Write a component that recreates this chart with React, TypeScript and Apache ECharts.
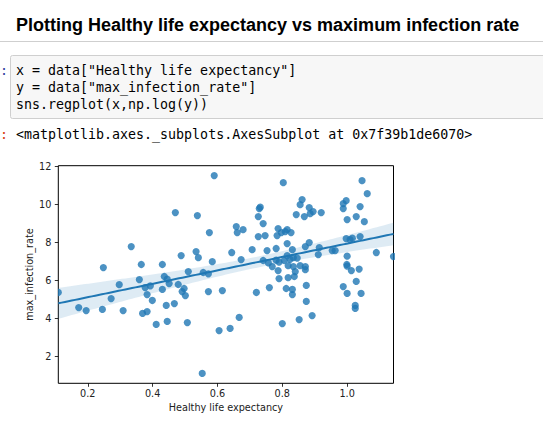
import React, { useEffect, useRef } from "react";
import * as echarts from "echarts";

// Healthy life expectancy (x) for each country
const healthyLifeExpectancy = [
  0.109, 0.172, 0.195, 0.245, 0.248, 0.272, 0.297, 0.309, 0.334, 0.359, 0.365, 0.369, 0.377, 0.383, 0.383,
  0.393, 0.399, 0.411, 0.430, 0.430, 0.436, 0.442, 0.445, 0.445, 0.451, 0.467, 0.470, 0.479, 0.488, 0.491,
  0.497, 0.501, 0.507, 0.510, 0.534, 0.538, 0.541, 0.553, 0.556, 0.572, 0.572, 0.575, 0.584, 0.590, 0.605,
  0.615, 0.639, 0.644, 0.658, 0.661, 0.667, 0.673, 0.679, 0.707, 0.720, 0.726, 0.729, 0.732, 0.726, 0.741,
  0.741, 0.747, 0.753, 0.757, 0.760, 0.769, 0.781, 0.781, 0.784, 0.787, 0.787, 0.790, 0.790, 0.797, 0.800,
  0.803, 0.806, 0.809, 0.812, 0.815, 0.815, 0.815, 0.818, 0.818, 0.824, 0.827, 0.831, 0.831, 0.831, 0.834,
  0.834, 0.837, 0.840, 0.843, 0.846, 0.852, 0.855, 0.855, 0.861, 0.868, 0.871, 0.871, 0.871, 0.874, 0.874,
  0.883, 0.883, 0.886, 0.892, 0.895, 0.911, 0.914, 0.920, 0.954, 0.963, 0.988, 0.988, 0.988, 0.997, 0.997,
  1.000, 1.000, 0.999, 1.000, 1.000, 1.009, 1.013, 1.016, 1.025, 1.025, 1.028, 1.028, 1.037, 1.040, 1.040,
  1.043, 1.046, 1.053, 1.062, 1.090, 1.143,
];

// log(max infection rate) (y) for each country
const maxInfectionRate = [
  5.36, 4.57, 4.41, 4.47, 6.67, 5.04, 5.77, 4.41, 7.77, 6.04, 6.83, 4.26, 5.62, 5.25, 4.36,
  5.71, 4.94, 3.68, 6.83, 5.52, 6.20, 4.68, 6.06, 3.84, 5.83, 4.78, 9.56, 5.78, 7.30, 5.41,
  5.57, 5.20, 3.78, 6.46, 7.51, 9.40, 7.19, 1.11, 6.41, 6.34, 5.41, 8.51, 6.98, 11.50, 3.36,
  5.46, 3.47, 7.46, 8.82, 8.51, 4.05, 7.09, 8.66, 7.61, 5.36, 9.35, 9.77, 9.84, 8.30, 8.98,
  7.04, 8.35, 7.56, 6.91, 5.62, 6.72, 7.67, 7.06, 8.35, 8.72, 6.51, 6.95, 6.09, 8.51, 3.73,
  11.13, 7.04, 8.56, 5.57, 8.66, 7.93, 7.30, 6.77, 6.14, 7.10, 8.51, 7.61, 5.52, 5.25, 6.72,
  7.19, 6.20, 6.46, 9.45, 7.17, 3.94, 9.97, 6.77, 10.24, 9.35, 7.77, 6.72, 6.56, 5.73, 4.89,
  9.82, 7.98, 9.50, 4.15, 9.61, 7.35, 7.72, 9.56, 7.56, 7.56, 10.03, 9.77, 5.67, 10.18, 8.19,
  9.19, 7.27, 6.83, 6.74, 5.31, 8.14, 6.51, 8.21, 4.68, 4.52, 9.35, 5.94, 6.59, 9.87, 8.30,
  5.31, 11.23, 9.08, 10.55, 7.46, 7.25,
];

const xTicks = [0.2, 0.4, 0.6, 0.8, 1.0];
const yTicks = [2, 4, 6, 8, 10, 12];

const xLabel = "Healthy life expectancy";
const yLabel = "max_infection_rate";
const titleText = "Plotting Healthy life expectancy vs maximum infection rate";
const codeLines = [
  '{d|x} {o|=} {d|data[}{s|"Healthy life expectancy"}{d|]}',
  '{d|y} {o|=} {d|data[}{s|"max_infection_rate"}{d|]}',
  "{d|sns.regplot}{b|(}{d|x,np.log(y)}{b|)}",
];
const inPrompt = ":";
const outPrompt = ":";
const outputText = "<matplotlib.axes._subplots.AxesSubplot at 0x7f39b1de6070>";

const BLUE = "#1f77b4";
const MONO = '"DejaVu Sans Mono", monospace';
const SANS_MPL = '"DejaVu Sans", sans-serif';

export default function App() {
  const ref = useRef<HTMLDivElement>(null);

  useEffect(() => {
    if (!ref.current) return;
    const chart = echarts.init(ref.current, undefined, { renderer: "svg" });

    const n = Math.min(healthyLifeExpectancy.length, maxInfectionRate.length);
    const pts: number[][] = [];
    for (let i = 0; i < n; i++) pts.push([healthyLifeExpectancy[i], maxInfectionRate[i]]);
    const xs = pts.map((p) => p[0]);
    const ys = pts.map((p) => p[1]);
    const xMin = Math.min(...xs);
    const xMax = Math.max(...xs);
    const yLo = Math.min(...ys);
    const yHi = Math.max(...ys);
    const yr = yHi - yLo;
    const yMin = yLo - 0.05 * yr;
    const yMax = yHi + 0.05 * yr;

    // OLS fit and 95% confidence band
    const mx = xs.reduce((a, b) => a + b, 0) / n;
    const my = ys.reduce((a, b) => a + b, 0) / n;
    let sxx = 0;
    let sxy = 0;
    for (let i = 0; i < n; i++) {
      sxx += (xs[i] - mx) ** 2;
      sxy += (xs[i] - mx) * (ys[i] - my);
    }
    const slope = sxy / sxx;
    const icpt = my - slope * mx;
    let sse = 0;
    for (let i = 0; i < n; i++) sse += (ys[i] - icpt - slope * xs[i]) ** 2;
    const s = Math.sqrt(sse / (n - 2));
    const tval = 1.977;
    const grid: number[] = [];
    const steps = 100;
    for (let k = 0; k <= steps; k++) grid.push(xMin + ((xMax - xMin) * k) / steps);
    const fit = grid.map((x) => [x, icpt + slope * x]);
    const half = grid.map((x) => tval * s * Math.sqrt(1 / n + (x - mx) ** 2 / sxx));
    const upper = grid.map((x, k) => [x, icpt + slope * x + half[k]]);
    const lower = grid.map((x, k) => [x, icpt + slope * x - half[k]]);

    const codeRich = {
      d: { color: "#000000", fontFamily: MONO, fontSize: 13.3 },
      o: { color: "#AA22FF", fontFamily: MONO, fontSize: 13.3 },
      s: { color: "#BA2121", fontFamily: MONO, fontSize: 13.3 },
      b: { color: "#00bb00", fontFamily: MONO, fontSize: 13.3 },
    };

    const graphic: any[] = [
      {
        type: "text",
        x: 16,
        y: 25.3,
        style: {
          text: titleText,
          fontFamily: '"Liberation Sans", Arial, sans-serif',
          fontWeight: "bold",
          fontSize: 18,
          fill: "#000",
          verticalAlign: "middle",
        },
      },
      {
        type: "line",
        shape: { x1: 0, y1: 41.5, x2: 543, y2: 41.5 },
        style: { stroke: "#cfcfcf", lineWidth: 1 },
      },
      {
        type: "rect",
        shape: { x: 10.5, y: 55.5, width: 540, height: 63, r: 2 },
        style: { fill: "#f7f7f7", stroke: "#cfcfcf", lineWidth: 1 },
      },
      {
        type: "text",
        x: 0,
        y: 70.4,
        style: {
          text: inPrompt,
          fontFamily: MONO,
          fontSize: 13.3,
          fill: "#303F9F",
          align: "left",
          verticalAlign: "middle",
        },
      },
      {
        type: "text",
        x: 0,
        y: 134,
        style: {
          text: outPrompt,
          fontFamily: MONO,
          fontSize: 13.3,
          fill: "#D84315",
          align: "left",
          verticalAlign: "middle",
        },
      },
      {
        type: "text",
        x: 16,
        y: 134,
        style: {
          text: outputText,
          fontFamily: MONO,
          fontSize: 13.3,
          fill: "#000",
          verticalAlign: "middle",
        },
      },
    ];
    codeLines.forEach((line, i) => {
      graphic.push({
        type: "text",
        x: 16,
        y: 70.4 + i * 17,
        style: {
          text: line,
          fontFamily: MONO,
          fontSize: 13.3,
          fill: "#000",
          verticalAlign: "middle",
          rich: codeRich,
        },
      });
    });

    const axisText = { fontFamily: SANS_MPL, fontSize: 9.7, color: "#222" };

    chart.setOption({
      animation: false,
      backgroundColor: "#ffffff",
      graphic,
      grid: {
        left: 58.3,
        top: 165.7,
        width: 335.2,
        height: 217.6,
        show: true,
        borderColor: "#000",
        borderWidth: 1,
        backgroundColor: "transparent",
        containLabel: false,
      },
      xAxis: {
        type: "value",
        min: xMin,
        max: xMax,
        name: xLabel,
        nameLocation: "middle",
        nameGap: 19,
        nameMoveOverlap: false,
        nameTextStyle: axisText,
        axisLine: { show: false },
        splitLine: { show: false },
        axisTick: { show: true, customValues: xTicks, length: 3.5, lineStyle: { color: "#000", width: 0.8 } },
        axisLabel: { customValues: xTicks, formatter: (v: number) => v.toFixed(1), margin: 5, ...axisText },
      },
      yAxis: {
        type: "value",
        min: yMin,
        max: yMax,
        name: yLabel,
        nameLocation: "middle",
        nameGap: 24,
        nameMoveOverlap: false,
        nameTextStyle: axisText,
        axisLine: { show: false },
        splitLine: { show: false },
        axisTick: { show: true, customValues: yTicks, length: 3.5, lineStyle: { color: "#000", width: 0.8 } },
        axisLabel: { customValues: yTicks, formatter: (v: number) => String(v), margin: 7, ...axisText },
      },
      series: [
        {
          type: "custom",
          name: "points",
          coordinateSystem: "cartesian2d",
          clip: true,
          z: 2,
          data: pts,
          renderItem: (_params: any, api: any) => {
            const c = api.coord([api.value(0), api.value(1)]);
            return {
              type: "circle",
              shape: { cx: c[0], cy: c[1], r: 3.6 },
              style: { fill: "rgba(31,119,180,0.8)" },
            };
          },
        },
        {
          type: "custom",
          name: "band",
          coordinateSystem: "cartesian2d",
          clip: true,
          z: 3,
          data: [[xMin, icpt + slope * xMin]],
          renderItem: (_params: any, api: any) => {
            const poly = upper
              .map((p) => api.coord(p))
              .concat(lower.slice().reverse().map((p) => api.coord(p)));
            return {
              type: "polygon",
              shape: { points: poly },
              style: { fill: "rgba(31,119,180,0.15)" },
            };
          },
        },
        {
          type: "line",
          name: "fit",
          data: fit,
          showSymbol: false,
          clip: true,
          z: 4,
          lineStyle: { color: BLUE, width: 2 },
        },
      ],
    });

    return () => chart.dispose();
  }, []);

  return (
    <div
      ref={ref}
      style={{ position: "absolute", left: 0, top: 0, width: 543, height: 426, background: "#fff" }}
    />
  );
}
